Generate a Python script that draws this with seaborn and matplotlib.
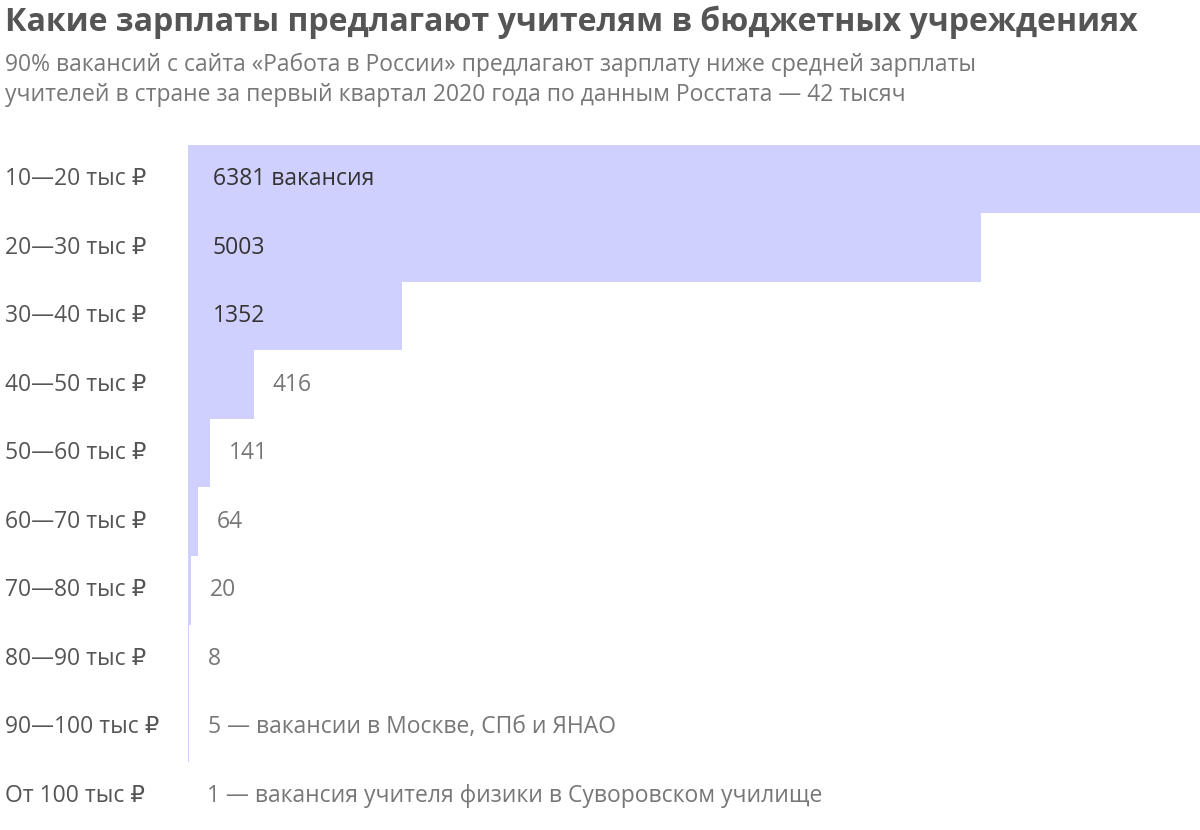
import matplotlib
matplotlib.use("Agg")
import matplotlib.pyplot as plt
import seaborn as sns
import pandas as pd

categories = ["10—20 тыс ₽", "20—30 тыс ₽", "30—40 тыс ₽", "40—50 тыс ₽", "50—60 тыс ₽",
              "60—70 тыс ₽", "70—80 тыс ₽", "80—90 тыс ₽", "90—100 тыс ₽", "От 100 тыс ₽"]
counts = [6381, 5003, 1352, 416, 141, 64, 20, 8, 5, 1]
value_labels = ["6381 вакансия", "5003", "1352", "416", "141", "64", "20", "8",
                "5 — вакансии в Москве, СПб и ЯНАО",
                "1 — вакансия учителя физики в Суворовском училище"]

title = "Какие зарплаты предлагают учителям в бюджетных учреждениях"
subtitle = ("90% вакансий с сайта «Работа в России» предлагают зарплату ниже средней зарплаты\n"
            "учителей в стране за первый квартал 2020 года по данным Росстата — 42 тысяч")

sns.set_style("white")
plt.rcParams["font.family"] = ["Open Sans", "DejaVu Sans"]

df = pd.DataFrame({"cat": categories, "n": counts})

fig = plt.figure(figsize=(12, 8.3), dpi=100)
ax = fig.add_axes([188 / 1200, 0, 1 - 188 / 1200, 1 - 145 / 830])
sns.barplot(data=df, y="cat", x="n", orient="h", width=1.0, color="#d0d0ff",
            saturation=1, linewidth=0, ax=ax)
ax.set_xlim(0, max(counts))
ax.set_ylim(len(counts) - 0.5, -0.5)
ax.set_axis_off()

for i, (n, lab) in enumerate(zip(counts, value_labels)):
    if n > 1000:
        ax.annotate(lab, (0, i), xytext=(25, 0), textcoords="offset pixels",
                    va="center", ha="left", fontsize=16.5, color="#333333")
    else:
        ax.annotate(lab, (n, i), xytext=(19, 0), textcoords="offset pixels",
                    va="center", ha="left", fontsize=16.5, color="#777777")
    ax.annotate(categories[i], (0, i), xytext=(-183, 0), textcoords="offset pixels",
                va="center", ha="left", fontsize=16.5, color="#555555",
                annotation_clip=False)

fig.text(5 / 1200, 1 - 22 / 830, title, fontsize=23, fontweight="bold",
         color="#555555", va="center", ha="left")
fig.text(5 / 1200, 1 - 80 / 830, subtitle, fontsize=16.5, color="#777777",
         va="center", ha="left", linespacing=1.3)

fig.savefig("out.png", dpi=100)
